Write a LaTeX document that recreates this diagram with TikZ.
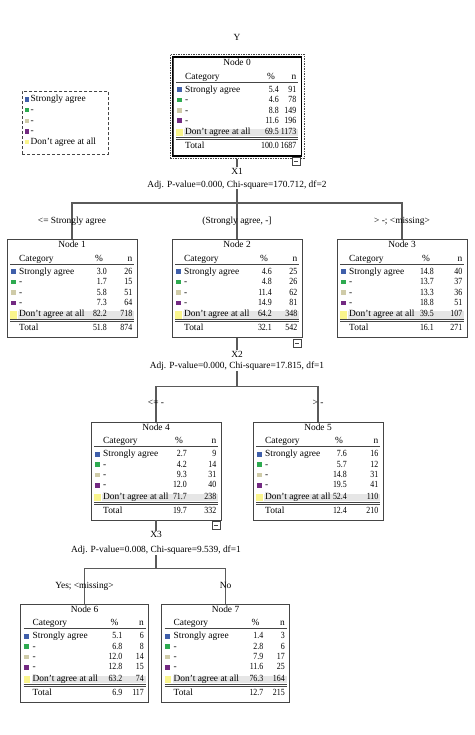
\documentclass[tikz,border=0pt]{standalone}
\usepackage{fontspec}
\setmainfont{Liberation Serif}
\definecolor{cblue}{HTML}{3F5FAA}
\definecolor{cgreen}{HTML}{2EAA50}
\definecolor{cbeige}{HTML}{CFCBA8}
\definecolor{cpurple}{HTML}{732A82}
\definecolor{cyellow}{HTML}{FAF58C}
\definecolor{cband}{HTML}{E6E6E6}
\definecolor{cline}{HTML}{454545}
\definecolor{cconn}{HTML}{5A5A5A}
\tikzset{
  txt/.style={inner sep=0pt, font=\fontsize{9.4}{11}\selectfont, text=black, text height=6.5pt, text depth=2pt},
  num/.style={txt, anchor=east, xscale=0.84, transform shape},
  tbox/.style={draw=cline, line width=0.9pt, inner sep=0pt},
  rule/.style={draw=cline, line width=0.7pt},
  conn/.style={draw=cconn, line width=1.2pt},
  minusbox/.style={draw=cline, line width=0.7pt, fill=white, minimum size=8pt, inner sep=0pt,
    path picture={\draw[cline, line width=0.7pt] ([xshift=1.8pt]path picture bounding box.west) -- ([xshift=-1.8pt]path picture bounding box.east);}},
}
% #1 name, #2 cx, #3 top, #4 num, #5 pct offset, #6 rows, #7 tot pct, #8 tot n, #9 width
\newcommand{\ctbox}[9]{%
  \pgfmathsetmacro{\nbL}{#2-#9/2}%
  \pgfmathsetmacro{\nbR}{#2+#9/2}%
  \pgfmathsetmacro{\nbP}{\nbL+#5}%
  \pgfmathsetmacro{\nbN}{\nbR-4.5}%
  \node[tbox, fill=white, minimum width=#9, minimum height=98, anchor=north] (#1) at (#2,#3) {};
  \node[txt] (#1t) at (#2,#3+6.7) {Node #4};
  \node[txt, anchor=west] (#1c) at (\nbL+12,#3+20) {Category};
  \node[txt] (#1pc) at (\nbP-8,#3+20) {\%};
  \node[txt, anchor=east] (#1nc) at (\nbN,#3+20) {n};
  \draw[rule] (\nbL+3,#3+25.3) -- (\nbR-3,#3+25.3);
  \fill[cband] (\nbL+11,#3+72) rectangle (\nbR-3,#3+79.5);
  \fill[cblue] (\nbL+3.5,#3+30.3) rectangle (\nbL+8.5,#3+35);
  \fill[cgreen] (\nbL+3.5,#3+40.7) rectangle (\nbL+8.5,#3+45.4);
  \fill[cbeige] (\nbL+3.5,#3+51.1) rectangle (\nbL+8.5,#3+55.8);
  \fill[cpurple] (\nbL+3.5,#3+61.5) rectangle (\nbL+8.5,#3+66.2);
  \fill[cyellow] (\nbL+3,#3+72) rectangle (\nbL+9.5,#3+79.5);
  \foreach \va/\vb/\vc/\vd/\ve/\vf/\vg/\vh/\vi/\vj in {#6} {
    \node[txt, anchor=west] (#1l1) at (\nbL+12,#3+33) {Strongly agree};
    \node[txt, anchor=west] (#1l2) at (\nbL+12,#3+43.4) {-};
    \node[txt, anchor=west] (#1l3) at (\nbL+12,#3+53.8) {-};
    \node[txt, anchor=west] (#1l4) at (\nbL+12,#3+64.2) {-};
    \node[txt, anchor=west] (#1l5) at (\nbL+12,#3+75.5) {Don’t agree at all};
    \node[num] (#1p1) at (\nbP,#3+33) {\va};
    \node[num] (#1n1) at (\nbN,#3+33) {\vb};
    \node[num] (#1p2) at (\nbP,#3+43.4) {\vc};
    \node[num] (#1n2) at (\nbN,#3+43.4) {\vd};
    \node[num] (#1p3) at (\nbP,#3+53.8) {\ve};
    \node[num] (#1n3) at (\nbN,#3+53.8) {\vf};
    \node[num] (#1p4) at (\nbP,#3+64.2) {\vg};
    \node[num] (#1n4) at (\nbN,#3+64.2) {\vh};
    \node[num] (#1p5) at (\nbP,#3+75.5) {\vi};
    \node[num] (#1n5) at (\nbN,#3+75.5) {\vj};
  }
  \draw[rule, line width=0.6pt] (\nbL+3,#3+80.6) -- (\nbR-3,#3+80.6);
  \draw[rule, line width=0.6pt] (\nbL+3,#3+82.4) -- (\nbR-3,#3+82.4);
  \node[txt, anchor=west] (#1tl) at (\nbL+12,#3+89.5) {Total};
  \node[num] (#1tp) at (\nbP,#3+89.5) {#7};
  \node[num] (#1tn) at (\nbN,#3+89.5) {#8};
}
\begin{document}
\begin{tikzpicture}[x=1pt,y=-1pt]
\fill[white] (0,0) rectangle (474,735);
\useasboundingbox (0,0) rectangle (474,735);

\node[txt] (ytitle) at (237,38) {Y};

% legend
\node[draw=cline, line width=0.8pt, dash pattern=on 3pt off 2pt, minimum width=86, minimum height=63, anchor=north west, inner sep=0pt] (leg) at (22,91) {};
\fill[cblue] (24.5,97.2) rectangle (29,101.7);
\fill[cgreen] (24.5,107.9) rectangle (29,112.4);
\fill[cbeige] (24.5,118.6) rectangle (29,123.1);
\fill[cpurple] (24.5,129.3) rectangle (29,133.8);
\fill[cyellow] (24.5,140) rectangle (29,144.5);
\node[txt, anchor=west] (lg1) at (30.5,99.5) {Strongly agree};
\node[txt, anchor=west] (lg2) at (30.5,110.2) {-};
\node[txt, anchor=west] (lg3) at (30.5,120.9) {-};
\node[txt, anchor=west] (lg4) at (30.5,131.6) {-};
\node[txt, anchor=west] (lg5) at (30.5,142.3) {Don’t agree at all};

% node 0
\node[draw=cline, line width=0.9pt, dash pattern=on 1.5pt off 1pt, minimum width=134, minimum height=104, anchor=north, inner sep=0pt] (n0o) at (237,54) {};
\ctbox{n0}{237}{57}{0}{106}{5.4/91/4.6/78/8.8/149/11.6/196/69.5/1173}{100.0}{1687}{128}
\draw[black, line width=1.6pt] (n0.north west) rectangle (n0.south east);

\ctbox{n1}{72}{239}{1}{100}{3.0/26/1.7/15/5.8/51/7.3/64/82.2/718}{51.8}{874}{130}
\ctbox{n2}{237}{239}{2}{100}{4.6/25/4.8/26/11.4/62/14.9/81/64.2/348}{32.1}{542}{130}
\ctbox{n3}{402}{239}{3}{97}{14.8/40/13.7/37/13.3/36/18.8/51/39.5/107}{16.1}{271}{130}
\ctbox{n4}{156}{421.5}{4}{96}{2.7/9/4.2/14/9.3/31/12.0/40/71.7/238}{19.7}{332}{130}
\ctbox{n5}{318}{421.5}{5}{94}{7.6/16/5.7/12/14.8/31/19.5/41/52.4/110}{12.4}{210}{130}
\ctbox{n6}{84.5}{603.5}{6}{102}{5.1/6/6.8/8/12.0/14/12.8/15/63.2/74}{6.9}{117}{128}
\ctbox{n7}{225.5}{603.5}{7}{102}{1.4/3/2.8/6/7.9/17/11.6/25/76.3/164}{12.7}{215}{128}

% split 1
\coordinate (s1) at (237,167.5);
\coordinate (h1) at (237,203);
\node[txt] (x1) at (237,172.7) {X1};
\node[txt] (a1) at (237,185) {Adj. P-value=0.000, Chi-square=170.712, df=2};
\draw[conn] (n0o.south) -- (s1);
\draw[conn] (a1.south) -- (h1);
\draw[conn] (n1.north) |- (h1) -| (n3.north);
\draw[conn] (h1) -- (n2.north);
\node[txt] (e11) at (72,221.7) {<= Strongly agree};
\node[txt] (e12) at (237,221.7) {(Strongly agree, -]};
\node[txt] (e13) at (402,221.7) {> -;  <missing>};

% split 2
\coordinate (s2) at (237,350);
\coordinate (h2) at (237,386.7);
\node[txt] (x2) at (237,355) {X2};
\node[txt] (a2) at (237,366.7) {Adj. P-value=0.000, Chi-square=17.815, df=1};
\draw[conn] (n2.south) -- (s2);
\draw[conn] (a2.south) -- (h2);
\draw[conn] (n4.north) |- (h2) -| (n5.north);
\node[txt] (e21) at (156,403) {<= -};
\node[txt] (e22) at (318,403) {> -};

% split 3
\coordinate (s3) at (156,531);
\coordinate (h3) at (156,568.3);
\node[txt] (x3) at (156,535.7) {X3};
\node[txt] (a3) at (156,550.7) {Adj. P-value=0.008, Chi-square=9.539, df=1};
\draw[conn] (n4.south) -- (s3);
\draw[conn] (a3.south) -- (h3);
\draw[conn] (n6.north) |- (h3) -| (n7.north);
\node[txt] (e31) at (84.5,586.7) {Yes;  <missing>};
\node[txt] (e32) at (225.5,586.7) {No};

% collapse boxes
\node[minusbox, anchor=north east] (m0) at ([xshift=-1pt,yshift=-1.5pt]n0.south east) {};
\node[minusbox, anchor=north east] (m2) at ([xshift=-1pt,yshift=-1pt]n2.south east) {};
\node[minusbox, anchor=north east] (m4) at ([xshift=-1pt,yshift=-1pt]n4.south east) {};
\end{tikzpicture}
\end{document}
